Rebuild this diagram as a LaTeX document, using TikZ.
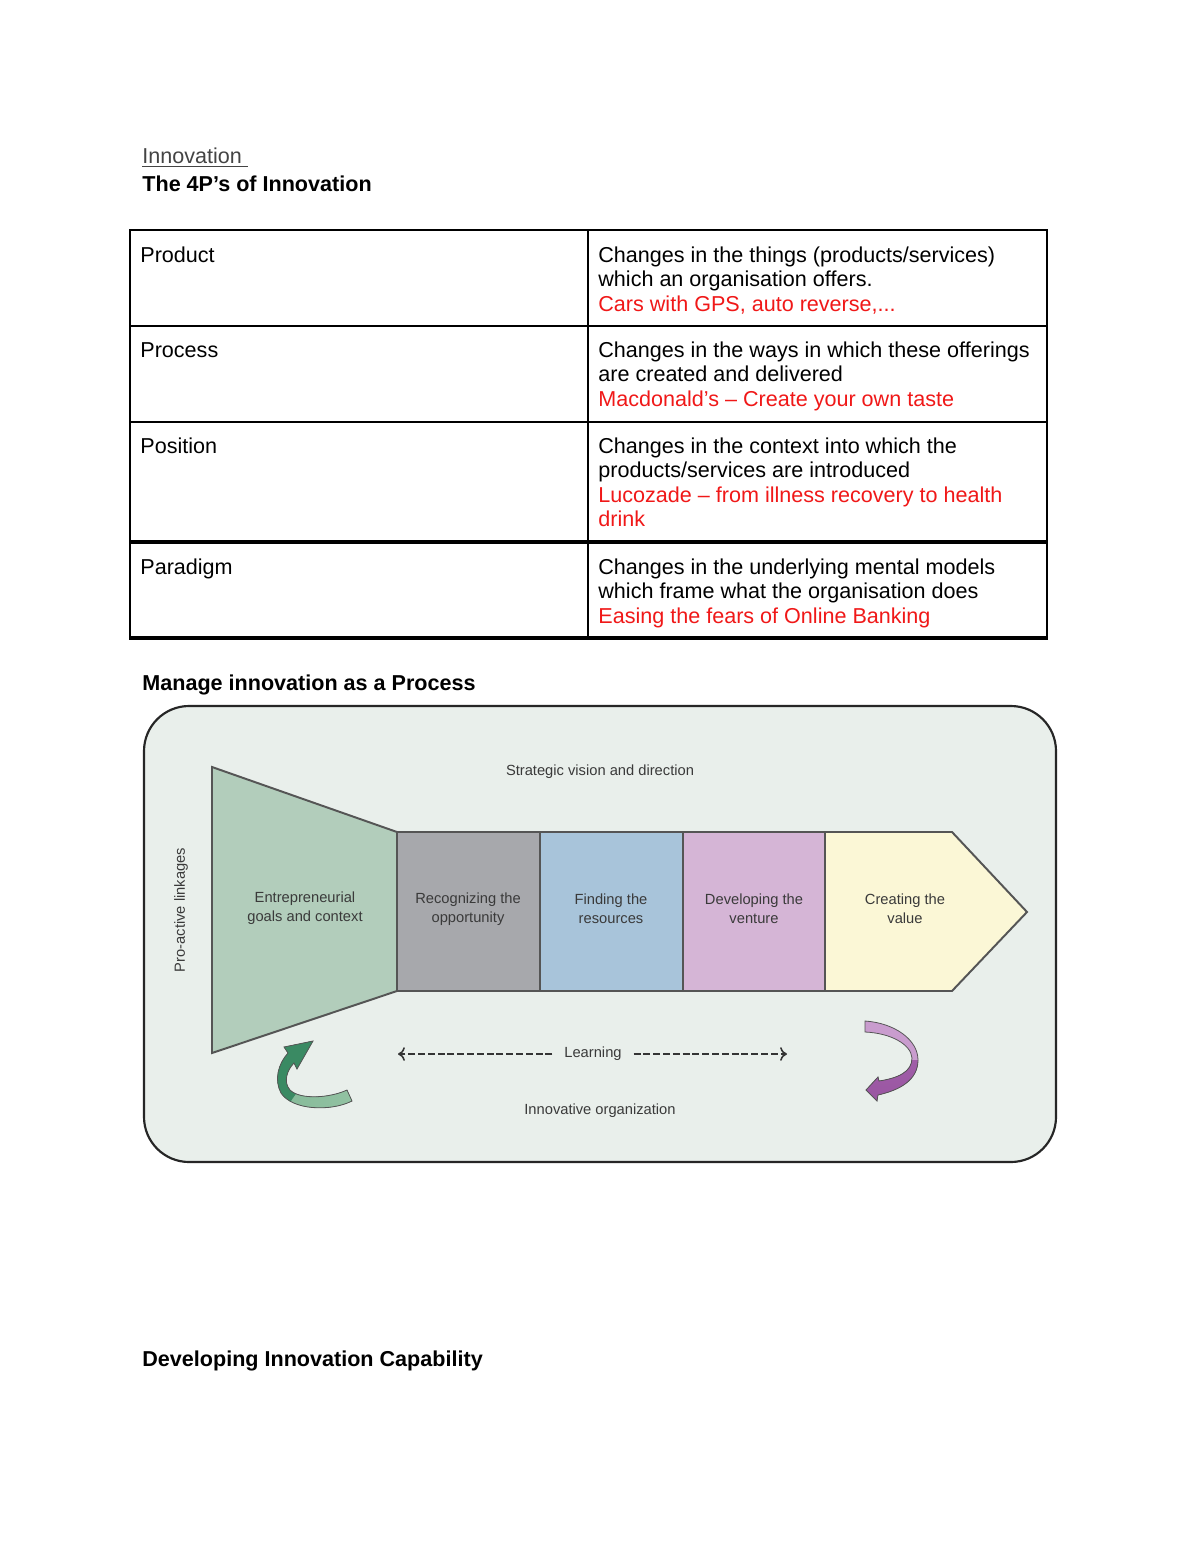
\documentclass[tikz,border=0pt]{standalone}
\usepackage{fontspec}
\setmainfont{Liberation Sans}
\usetikzlibrary{arrows.meta}
\definecolor{bgc}{HTML}{E9EFEB}
\definecolor{greenc}{HTML}{B2CDBB}
\definecolor{grayc}{HTML}{A7A8AC}
\definecolor{bluec}{HTML}{A8C4DA}
\definecolor{purplec}{HTML}{D5B5D6}
\definecolor{yellowc}{HTML}{FBF7D6}
\definecolor{edgec}{HTML}{555555}
\definecolor{dtext}{HTML}{3A3A3A}
\definecolor{redc}{HTML}{F01818}
\definecolor{titlec}{HTML}{444444}
\definecolor{garrowdark}{HTML}{3A8A63}
\definecolor{garrowlight}{HTML}{92C2A2}
\definecolor{parrowlight}{HTML}{C99CCE}
\definecolor{parrowdark}{HTML}{9A55A2}
\begin{document}
\begin{tikzpicture}[x=0.51pt,y=-0.51pt,
  bodytxt/.style={font=\fontsize{11}{12.65}\selectfont, anchor=base west, inner sep=0pt},
  redtxt/.style={bodytxt, text=redc},
  headtxt/.style={font=\fontsize{11}{12.65}\selectfont\bfseries, anchor=base west, inner sep=0pt},
  tblline/.style={line width=1.2pt, black},
  tblthick/.style={line width=1.9pt, black},
  dlabel/.style={font=\fontsize{7.5}{9.7}\selectfont, text=dtext, align=center, inner sep=0pt},
  stagebox/.style={draw=edgec, line width=1pt},
  learnline/.style={draw=dtext!90!black, line width=0.8pt, dash pattern=on 3.6pt off 1.4pt, -{To[length=3.5pt,width=7pt]}}
]
\useasboundingbox[fill=white] (0,0) rectangle (1200,1553);

% ---------- headings ----------
\node[bodytxt, text=titlec] (ttl) at (142,163.5) {\underline{Innovation~}};
\node[headtxt] (sub) at (142,192) {The 4P’s of Innovation};

% ---------- table ----------
\draw[tblline] (130,230) -- (1047,230);
\draw[tblline] (130,326) -- (1047,326);
\draw[tblline] (130,422) -- (1047,422);
\draw[tblthick] (130,542) -- (1047,542);
\draw[tblthick] (129,638) -- (1048,638);
\draw[tblline] (130,229.4) -- (130,638);
\draw[tblline] (588,229.4) -- (588,638);
\draw[tblline] (1047,229.4) -- (1047,638);

\node[bodytxt] (p1) at (140,262) {Product};
\node[bodytxt] (d1a) at (598,262) {Changes in the things (products/services)};
\node[bodytxt] (d1b) at (598,286.5) {which an organisation offers.};
\node[redtxt]  (d1c) at (598,311) {Cars with GPS, auto reverse,...};

\node[bodytxt] (p2) at (140,357) {Process};
\node[bodytxt] (d2a) at (598,357) {Changes in the ways in which these offerings};
\node[bodytxt] (d2b) at (598,381.5) {are created and delivered};
\node[redtxt]  (d2c) at (598,406) {Macdonald's – Create your own taste};

\node[bodytxt] (p3) at (140,453) {Position};
\node[bodytxt] (d3a) at (598,453) {Changes in the context into which the};
\node[bodytxt] (d3b) at (598,477.5) {products/services are introduced};
\node[redtxt]  (d3c) at (598,502) {Lucozade – from illness recovery to health};
\node[redtxt]  (d3d) at (598,526.5) {drink};

\node[bodytxt] (p4) at (140,574) {Paradigm};
\node[bodytxt] (d4a) at (598,574) {Changes in the underlying mental models};
\node[bodytxt] (d4b) at (598,598.5) {which frame what the organisation does};
\node[redtxt]  (d4c) at (598,623) {Easing the fears of Online Banking};

\node[headtxt] (mgr) at (142,690) {Manage innovation as a Process};

% ---------- process diagram ----------
\draw[fill=bgc, draw=black!85, line width=1.1pt, rounded corners=23pt] (144,706) rectangle (1056,1162);

\draw[stagebox, fill=greenc] (212,767) -- (397,832) -- (397,991) -- (212,1053) -- cycle;
\draw[stagebox, fill=grayc] (397,832) rectangle (540,991);
\draw[stagebox, fill=bluec] (540,832) rectangle (683,991);
\draw[stagebox, fill=purplec] (683,832) rectangle (825,991);
\draw[stagebox, fill=yellowc] (825,832) -- (952,832) -- (1027,912) -- (952,991) -- (825,991) -- cycle;

\node[dlabel] (strat) at (600,772) {Strategic vision and direction};
\node[dlabel] (ent) at (305,908) {Entrepreneurial\\goals and context};
\node[dlabel] (rec) at (468,909) {Recognizing the\\opportunity};
\node[dlabel] (fin) at (611,909) {Finding the\\resources};
\node[dlabel] (dev) at (754,909) {Developing the\\venture};
\node[dlabel] (cre) at (905,909) {Creating the\\value};
\node[dlabel, rotate=90] (pro) at (181,910) {Pro-active linkages};
\node[dlabel, inner xsep=5.9pt] (learn) at (593,1054) {Learning};
\node[dlabel] (inorg) at (600,1111) {Innovative organization};

\coordinate (lend) at (398,1054);
\coordinate (rend) at (787,1054);
\draw[learnline] (learn.west) -- (lend);
\draw[learnline] (learn.east) -- (rend);

% green curved arrow
\def\greenarrow{(347,1090) .. controls (330,1098) and (300,1100) .. (290,1090)
  .. controls (283,1082) and (287,1070) .. (294,1063)
  -- (297,1069) -- (313,1041) -- (284,1047) -- (288,1053)
  .. controls (278,1064) and (274,1080) .. (281,1093)
  .. controls (292,1110) and (330,1112) .. (352,1101) -- cycle}
\fill[left color=garrowlight!85!garrowdark, right color=garrowlight] \greenarrow;
\begin{scope}
  \clip (260,1030) -- (330,1030) -- (300,1088) -- (286,1108) -- (260,1108) -- cycle;
  \fill[garrowdark] \greenarrow;
\end{scope}
\draw[edgec, line width=0.4pt] \greenarrow;

% purple curved arrow
\def\purplearrow{(865,1021) .. controls (895,1023) and (918,1040) .. (918,1060)
  .. controls (918,1080) and (900,1090) .. (878,1095)
  -- (877,1101) -- (866,1090) -- (878,1077) -- (879,1081)
  .. controls (898,1078) and (912,1072) .. (912,1058)
  .. controls (911,1044) and (890,1033) .. (865,1032) -- cycle}
\fill[parrowlight] \purplearrow;
\begin{scope}
  \clip (850,1060) rectangle (930,1110);
  \fill[top color=parrowdark!75!parrowlight, bottom color=parrowdark] \purplearrow;
\end{scope}
\draw[edgec, line width=0.4pt] \purplearrow;

\node[headtxt] (dev2) at (142,1366) {Developing Innovation Capability};
\end{tikzpicture}
\end{document}
